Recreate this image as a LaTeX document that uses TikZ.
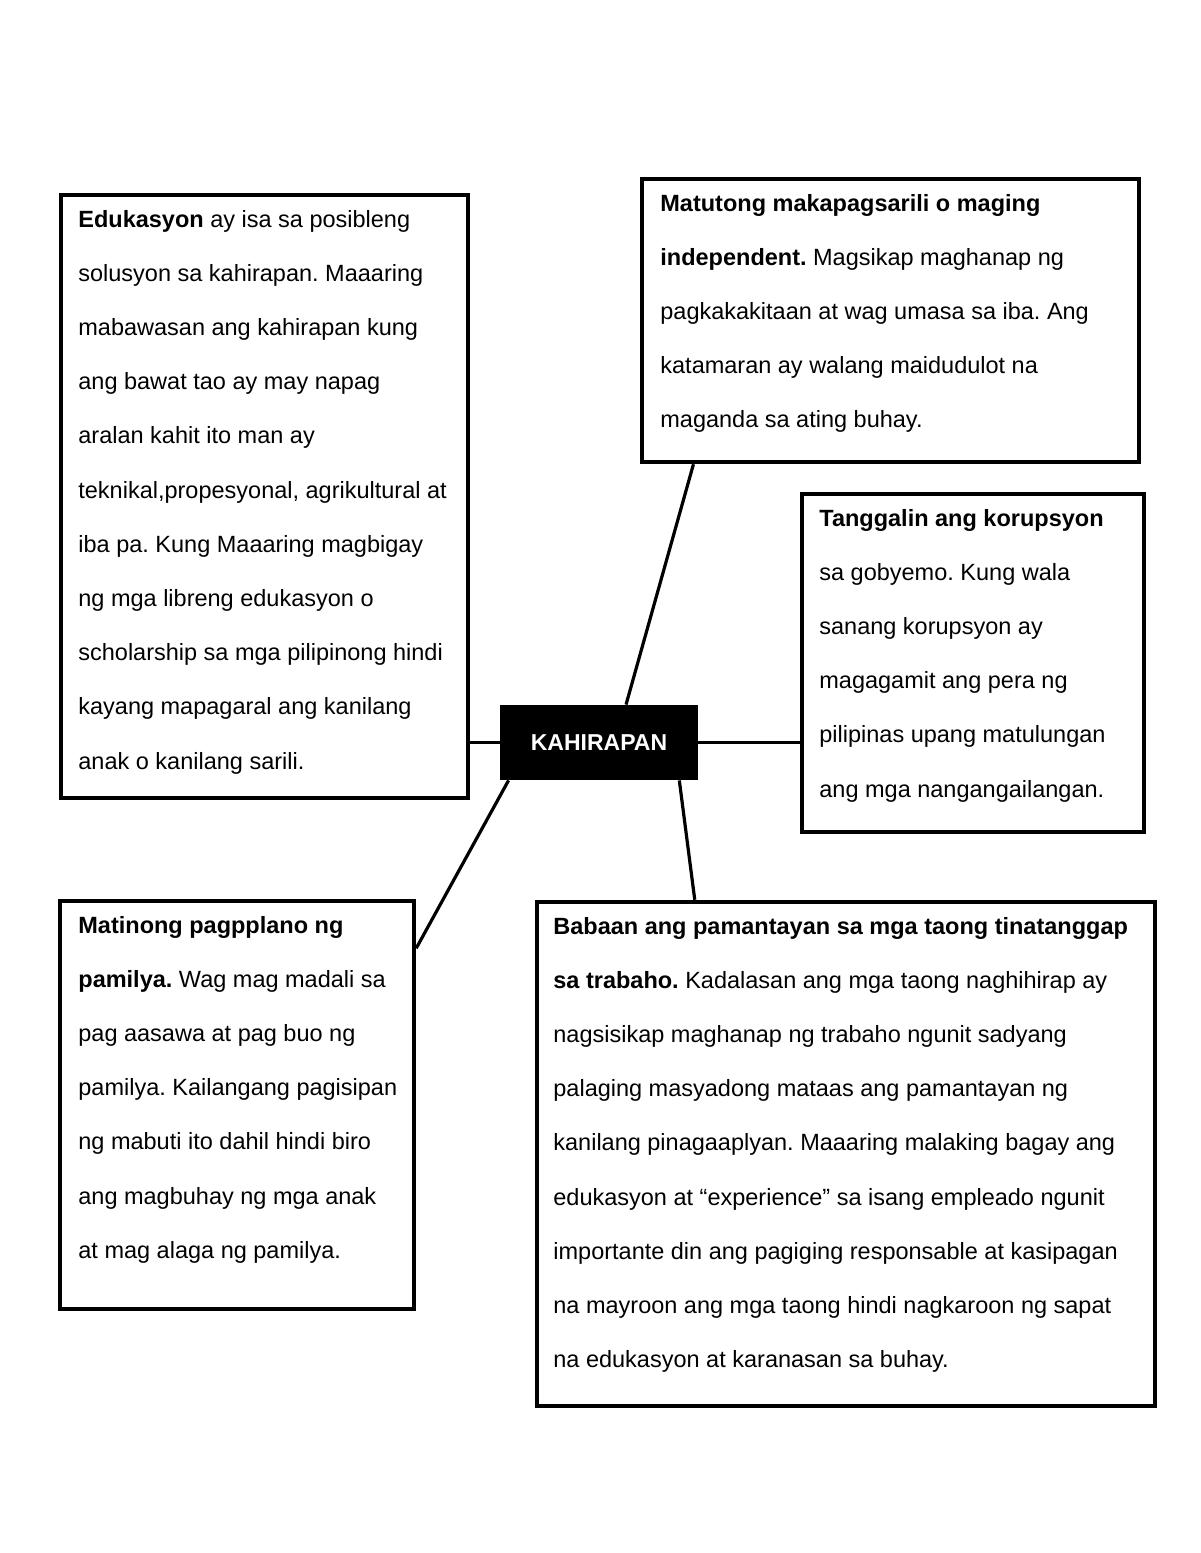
\documentclass[tikz,border=0pt]{standalone}
\usepackage{fontspec}
\setmainfont{Liberation Sans}
\usetikzlibrary{calc,fit}
\frenchspacing
\tikzset{
  box/.style={draw=black, line width=2.2pt, inner sep=0pt, rectangle},
  link/.style={draw=black, line width=1.6pt},
  txt/.style={inner sep=0pt, anchor=base west},
}
\newcommand{\blk}[2]{\parbox[t]{#1}{\raggedright\frenchspacing\fontsize{11.75}{27.1}\selectfont #2}}
\begin{document}
\begin{tikzpicture}[x=0.5pt,y=-0.5pt]
\useasboundingbox[fill=white] (0,0) rectangle (1200,1553);
% boxes
\node[box, fit={(61,195) (468,798)}] (A) {};
\node[box, fit={(642,179) (1139,462)}] (B) {};
\node[box, fit={(802,494) (1144,832)}] (C) {};
\node[box, fit={(60,901) (414,1309)}] (D) {};
\node[box, fit={(537,902) (1155,1406)}] (E) {};
\node[fill=black, inner sep=0pt, fit={(500,705) (698,780)}] (K) {};
\node[text=white, font=\fontsize{11.5}{14}\selectfont\bfseries] (Kt) at (K.center) {KAHIRAPAN};
% texts
\node[txt] (At) at (78,227) {\blk{210pt}{\textbf{Edukasyon} ay isa sa posibleng\\
solusyon sa kahirapan. Maaaring\\
mabawasan ang kahirapan kung\\
ang bawat tao ay may napag\\
aralan kahit ito man ay\\
teknikal,propesyonal, agrikultural at\\
iba pa. Kung Maaaring magbigay\\
ng mga libreng edukasyon o\\
scholarship sa mga pilipinong hindi\\
kayang mapagaral ang kanilang\\
anak o kanilang sarili.}};
\node[txt] (Bt) at (660,211) {\blk{245pt}{\textbf{Matutong makapagsarili o maging}\\
\textbf{independent.} Magsikap maghanap ng\\
pagkakakitaan at wag umasa sa iba. Ang\\
katamaran ay walang maidudulot na\\
maganda sa ating buhay.}};
\node[txt] (Ct) at (819,526) {\blk{168pt}{\textbf{Tanggalin ang korupsyon}\\
sa gobyemo. Kung wala\\
sanang korupsyon ay\\
magagamit ang pera ng\\
pilipinas upang matulungan\\
ang mga nangangailangan.}};
\node[txt] (Dt) at (78,933) {\blk{175pt}{\textbf{Matinong pagpplano ng}\\
\textbf{pamilya.} Wag mag madali sa\\
pag aasawa at pag buo ng\\
pamilya. Kailangang pagisipan\\
ng mabuti ito dahil hindi biro\\
ang magbuhay ng mga anak\\
at mag alaga ng pamilya.}};
\node[txt] (Et) at (553,934) {\blk{305pt}{\textbf{Babaan ang pamantayan sa mga taong tinatanggap}\\
\textbf{sa trabaho.} Kadalasan ang mga taong naghihirap ay\\
nagsisikap maghanap ng trabaho ngunit sadyang\\
palaging masyadong mataas ang pamantayan ng\\
kanilang pinagaaplyan. Maaaring malaking bagay ang\\
edukasyon at “experience” sa isang empleado ngunit\\
importante din ang pagiging responsable at kasipagan\\
na mayroon ang mga taong hindi nagkaroon ng sapat\\
na edukasyon at karanasan sa buhay.}};
% connectors
\draw[link] (A.east |- K.west) -- (K.west);
\draw[link] (K.east) -- (C.west |- K.east);
\draw[link] ($(K.north west)!0.636!(K.north east)$) -- ($(B.south west)!0.107!(B.south east)$);
\draw[link] ($(K.south west)!0.045!(K.south east)$) -- ($(D.north east)!0.12!(D.south east)$);
\draw[link] ($(K.south west)!0.904!(K.south east)$) -- ($(E.north west)!0.257!(E.north east)$);
\end{tikzpicture}
\end{document}
